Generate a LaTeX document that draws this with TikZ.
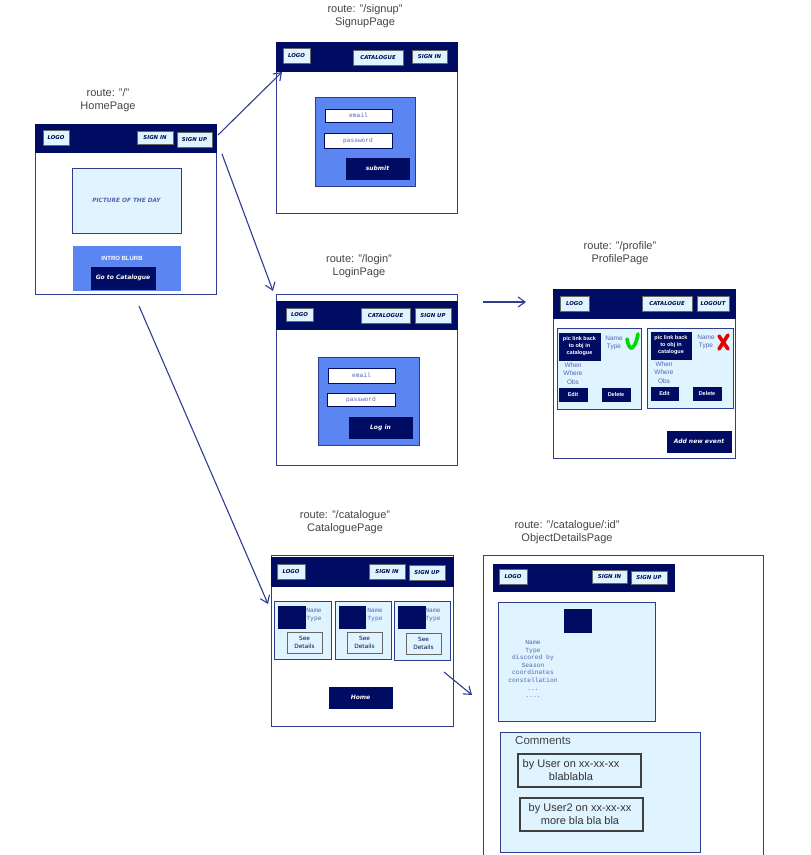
\documentclass[tikz,border=0pt]{standalone}
\usepackage{fontspec}
\setmainfont{Liberation Sans}
\setmonofont{Liberation Mono}
\newfontfamily\sketchfont{DejaVu Sans}
\usetikzlibrary{arrows.meta}
\definecolor{navy}{HTML}{000B62}
\definecolor{frameblue}{HTML}{2F3C8F}
\definecolor{paleblue}{HTML}{DFF4FF}
\definecolor{formblue}{HTML}{5B86F2}
\definecolor{softblue}{HTML}{5564AE}
\definecolor{labelgray}{HTML}{444444}
\tikzset{
    box/.style 2 args={minimum width=#1pt, minimum height=#2pt, inner sep=0pt},
    route/.style={text=labelgray, font=\fontsize{11}{13}\selectfont, align=center},
    page/.style={draw=frameblue, line width=1pt, fill=white},
    topbar/.style={draw=navy, fill=navy},
    navbtn/.style={draw=gray!80!black, line width=.9pt, fill=paleblue, text=navy!80!black, font=\sketchfont\bfseries\itshape\fontsize{5.4}{6}\selectfont},
    panel/.style={draw=frameblue, line width=1pt, fill=paleblue},
    form/.style={draw=frameblue, line width=1pt, fill=formblue},
    field/.style={draw=navy, line width=.9pt, fill=white, text=softblue, font=\ttfamily\fontsize{6.2}{7}\selectfont},
    action/.style={draw=navy, fill=navy, text=white, font=\sketchfont\bfseries\itshape\fontsize{6}{7}\selectfont},
    small/.style={draw=navy, fill=navy, text=white, font=\bfseries\fontsize{5.5}{7}\selectfont},
    info/.style={text=softblue, font=\fontsize{6.5}{8.2}\selectfont},
    mono/.style={text=softblue, font=\ttfamily\fontsize{6.3}{8}\selectfont},
    thumb/.style={draw=navy, fill=navy},
    details/.style={draw=gray!80!black, line width=.9pt, fill=paleblue, text=navy!70!black, align=center, font=\sketchfont\fontsize{5.8}{8}\selectfont},
    comment/.style={draw=black!75, line width=1.1pt, fill=paleblue},
    commenttext/.style={text=black!80, align=center, font=\fontsize{11}{13}\selectfont},
    flow/.style={draw=frameblue, line width=1.1pt, -{Straight Barb[length=7pt,width=10pt]}},
}
\begin{document}
\begin{tikzpicture}[x=1pt, y=-1pt]
    \useasboundingbox (0,0) rectangle (811,855);

    % route labels
    \node[route] (homelabel) at (108,100.5) {route: "/"\\HomePage};
    \node[route] (signuplabel) at (365,16.5) {route: "/signup"\\SignupPage};
    \node[route] (loginlabel) at (359,266) {route: "/login"\\LoginPage};
    \node[route] (profilelabel) at (620,253.5) {route: "/profile"\\ProfilePage};
    \node[route] (cataloguelabel) at (345,522) {route: "/catalogue"\\CataloguePage};
    \node[route] (objectlabel) at (567,532.5) {route: "/catalogue/:id"\\ObjectDetailsPage};

    % home page
    \node[page, box={181}{170}] (home) at (125.5,209.5) {};
    \node[topbar, box={181}{28}] (homebar) at (125.5,138.5) {};
    \node[navbtn, box={26}{15}] (homelogo) at (56,137.5) {LOGO};
    \node[navbtn, box={36}{13}] (homesignin) at (155,137.5) {SIGN IN};
    \node[navbtn, box={35}{15}] (homesignup) at (194.5,139.5) {SIGN UP};
    \node[panel, box={109}{65}, text=softblue, font=\sketchfont\bfseries\itshape\fontsize{5.8}{7}\selectfont] (homepicture) at (126.5,200.5) {PICTURE OF THE DAY};
    \node[fill=formblue, box={108}{45}] (homeblurb) at (127,268.5) {};
    \node[text=white, font=\bfseries\fontsize{6}{7}\selectfont] (homeintro) at (122,258) {INTRO BLURB};
    \node[action, box={64}{22}] (homego) at (123,278) {Go to Catalogue};

    % signup page
    \node[page, box={181}{171}] (signup) at (366.5,127.5) {};
    \node[topbar, box={181}{29}] (signupbar) at (366.5,56.5) {};
    \node[navbtn, box={27}{15}] (signuplogo) at (296.5,55.5) {LOGO};
    \node[navbtn, box={50}{15}] (signupcatalogue) at (378,57.5) {CATALOGUE};
    \node[navbtn, box={35}{13}] (signupsignin) at (429.5,56.5) {SIGN IN};
    \node[form, box={100}{89}] (signupform) at (365,141.5) {};
    \node[field, box={67}{13}] (signupemail) at (358.5,115.5) {email};
    \node[field, box={68}{15}] (signuppassword) at (358,140.5) {password};
    \node[action, box={63}{21}] (signupsubmit) at (377.5,168.5) {submit};

    % login page
    \node[page, box={181}{171}] (login) at (366.5,379.5) {};
    \node[topbar, box={181}{28}] (loginbar) at (366.5,315) {};
    \node[navbtn, box={27}{13}] (loginlogo) at (299.5,314.5) {LOGO};
    \node[navbtn, box={49}{15}] (logincatalogue) at (385.5,315.5) {CATALOGUE};
    \node[navbtn, box={36}{15}] (loginsignup) at (433,315.5) {SIGN UP};
    \node[form, box={101}{88}] (loginform) at (368.5,401) {};
    \node[field, box={67}{15}] (loginemail) at (361.5,375.5) {email};
    \node[field, box={68}{13}] (loginpassword) at (361,399.5) {password};
    \node[action, box={63}{21}] (loginbutton) at (380.5,427.5) {Log in};

    % profile page
    \node[page, box={182}{169}] (profile) at (644,373.5) {};
    \node[topbar, box={182}{29}] (profilebar) at (644,303.5) {};
    \node[navbtn, box={29}{15}] (profilelogo) at (574.5,303.5) {LOGO};
    \node[navbtn, box={50}{15}] (profilecatalogue) at (667,303.5) {CATALOGUE};
    \node[navbtn, box={32}{15}] (profilelogout) at (713,303.5) {LOGOUT};
    \node[panel, box={84}{81}] (cardone) at (599,368.5) {};
    \node[small, box={41}{27}, align=center] (cardonepic) at (579.5,346.5) {pic link back\\to obj in\\catalogue};
    \node[info, align=center] (cardonename) at (614,343) {Name\\Type};
    \node[info, align=center] (cardoneobs) at (573,373.5) {When\\Where\\Obs};
    \node[small, box={28}{13}] (cardoneedit) at (573,394.5) {Edit};
    \node[small, box={28}{13}] (cardonedelete) at (616,394.5) {Delete};
    \draw[green!85!black, line width=3.6pt, line cap=round, line join=round] (627,339) .. controls (628,345) and (630,349) .. (632,348) .. controls (635,346) and (637,340) .. (638,334);
    \node[panel, box={86}{80}] (cardtwo) at (690,368) {};
    \node[small, box={40}{27}, align=center] (cardtwopic) at (671,345.5) {pic link back\\to obj in\\catalogue};
    \node[info, align=center] (cardtwoname) at (706,342) {Name\\Type};
    \node[info, align=center] (cardtwoobs) at (664,372.5) {When\\Where\\Obs};
    \node[small, box={27}{13}] (cardtwoedit) at (664.5,393.5) {Edit};
    \node[small, box={28}{13}] (cardtwodelete) at (707,393.5) {Delete};
    \draw[red!90!black, line width=3.6pt, line cap=round] (719,349) -- (728,335);
    \draw[red!90!black, line width=3.6pt, line cap=round] (719,336) -- (728,349);
    \node[action, box={64}{21}] (profileadd) at (699,441.5) {Add new event};

    % catalogue page
    \node[page, box={182}{171}] (catalogue) at (362,640.5) {};
    \node[topbar, box={182}{29}] (cataloguebar) at (362,571.5) {};
    \node[navbtn, box={28}{15}] (cataloguelogo) at (291,571.5) {LOGO};
    \node[navbtn, box={36}{15}] (cataloguesignin) at (387,571.5) {SIGN IN};
    \node[navbtn, box={36}{15}] (cataloguesignup) at (427,572.5) {SIGN UP};
    \node[panel, box={57}{58}] (itemone) at (302.5,630) {};
    \node[thumb, box={27}{22}] (itemonepic) at (291.5,617) {};
    \node[mono, align=center] (itemonename) at (314,615) {Name\\Type};
    \node[details, box={35}{21}] (itemonesee) at (304.5,642.5) {See\\Details};
    \node[panel, box={56}{58}] (itemtwo) at (363,630) {};
    \node[thumb, box={26}{22}] (itemtwopic) at (352,617) {};
    \node[mono, align=center] (itemtwoname) at (375,615) {Name\\Type};
    \node[details, box={35}{21}] (itemtwosee) at (364.5,642.5) {See\\Details};
    \node[panel, box={56}{59}] (itemthree) at (422,630.5) {};
    \node[thumb, box={27}{22}] (itemthreepic) at (411.5,617) {};
    \node[mono, align=center] (itemthreename) at (433,615.5) {Name\\Type};
    \node[details, box={35}{21}] (itemthreesee) at (423.5,643.5) {See\\Details};
    \node[action, box={63}{21}] (cataloguehome) at (360.5,697.5) {Home};

    % object details page
    \draw[page, fill=none] (483,855) -- (483,555) -- (763,555) -- (763,855);
    \node[topbar, box={181}{27}] (objectbar) at (583.5,577.5) {};
    \node[navbtn, box={28}{15}] (objectlogo) at (513,576.5) {LOGO};
    \node[navbtn, box={35}{13}] (objectsignin) at (609.5,576.5) {SIGN IN};
    \node[navbtn, box={36}{13}] (objectsignup) at (649,577.5) {SIGN UP};
    \node[panel, box={157}{119}] (objectinfo) at (576.5,661.5) {};
    \node[thumb, box={27}{23}] (objectpic) at (577.5,620.5) {};
    \node[mono, align=center, font=\ttfamily\fontsize{6.3}{7.6}\selectfont] (objecttext) at (533,669) {Name\\Type\\discored by\\Season\\coordinates\\constellation\\...\\....};
    \node[panel, box={200}{120}] (comments) at (600,792) {};
    \node[text=labelgray, font=\fontsize{11.5}{13}\selectfont, anchor=west, inner sep=0pt] (commentstitle) at (515,741) {Comments};
    \node[comment, box={123}{33}] (commentone) at (579.5,770.5) {};
    \node[commenttext] (commentonetext) at (571,770.5) {by User on xx-xx-xx\\blablabla};
    \node[comment, box={123}{33}] (commenttwo) at (581.5,814.5) {};
    \node[commenttext] (commenttwotext) at (580,814.5) {by User2 on xx-xx-xx\\more bla bla bla};

    % arrow ends
    \coordinate (homeupper) at (218,135);
    \coordinate (signupin) at (282,72);
    \coordinate (homemiddle) at (222,154);
    \coordinate (loginin) at (273,291);
    \coordinate (homelower) at (139,306);
    \coordinate (cataloguein) at (268,604);
    \coordinate (loginout) at (483,302);
    \coordinate (profilein) at (526,302);
    \coordinate (catalogueout) at (444,672);
    \coordinate (objectin) at (472,695);

    % arrows
    \draw[flow] (homeupper) -- (signupin);
    \draw[flow] (homemiddle) -- (loginin);
    \draw[flow] (homelower) -- (cataloguein);
    \draw[flow] (loginout) -- (profilein);
    \draw[flow] (catalogueout) -- (objectin);
\end{tikzpicture}
\end{document}
